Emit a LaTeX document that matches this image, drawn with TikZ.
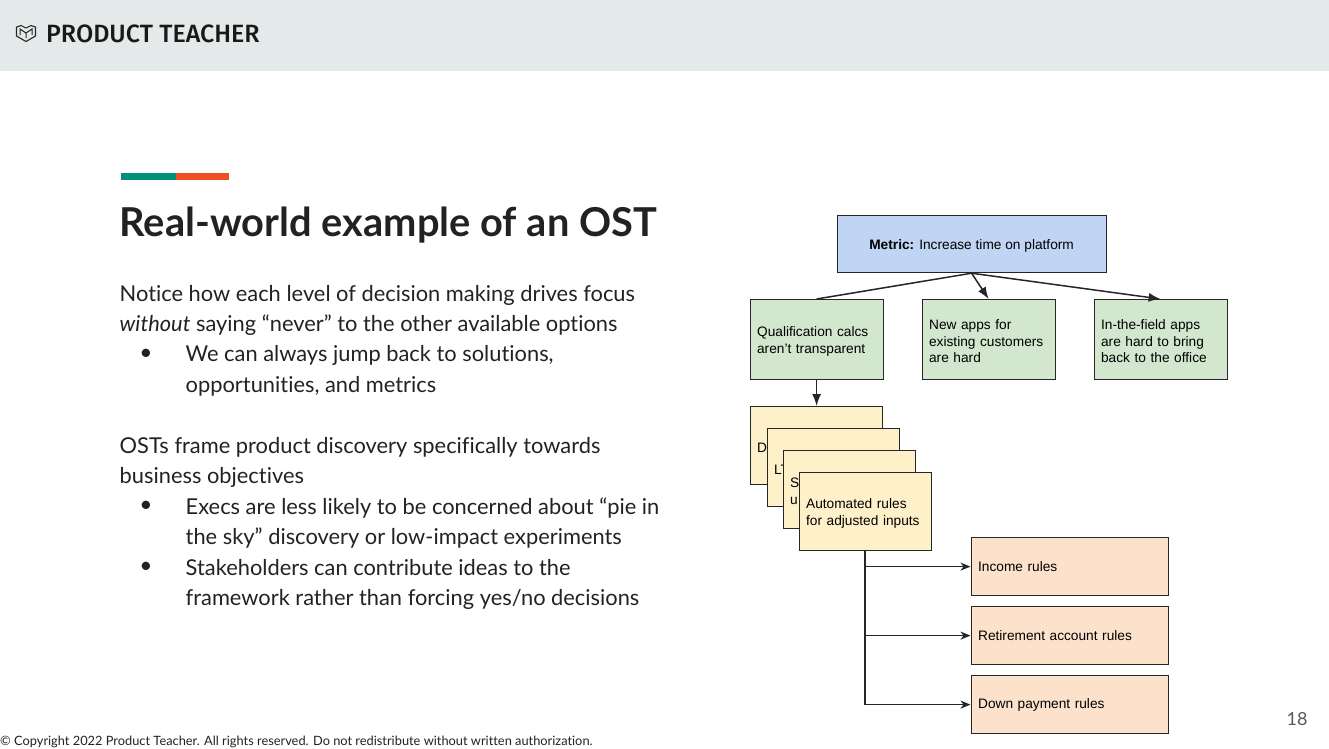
\documentclass[tikz,border=0pt]{standalone}
\usepackage{fontspec}
\setmainfont{Lato}[Ligatures=NoCommon]
\newfontfamily\arialfont{Liberation Sans}
\newfontfamily\logofont{Fira Sans Medium}
\usetikzlibrary{arrows.meta}
\definecolor{bandgray}{HTML}{E4EAEA}
\definecolor{barteal}{HTML}{00917C}
\definecolor{barorange}{HTML}{EF4F23}
\definecolor{inkgray}{HTML}{222222}
\definecolor{boxblue}{HTML}{C0D4F4}
\definecolor{boxgreen}{HTML}{D3E6CE}
\definecolor{boxyellow}{HTML}{FEF0C8}
\definecolor{boxpeach}{HTML}{FCE2CB}
\newcommand{\lowstrut}{\rule{0pt}{13.5pt}}
\tikzset{
	bodytext/.style={anchor=north west, inner sep=0pt, align=left, text=inkgray, font=\fontsize{21.85}{30.4}\selectfont},
	bullettext/.style={anchor=center, inner sep=0pt, text=inkgray, font=\fontsize{17}{17}\selectfont},
	treebox/.style={draw=black!85, line width=1.2pt, anchor=north west, inner sep=0pt, inner xsep=7pt, align=left, text=black, font=\arialfont\fontsize{13.7}{16.7}\selectfont},
	treeline/.style={draw=black!85, line width=1.5pt},
	bigtip/.style={-{Latex[length=12pt,width=9pt]}},
	smalltip/.style={-{Stealth[length=10pt,width=8pt,inset=3pt]}},
}
\begin{document}
\begin{tikzpicture}[x=1pt,y=-1pt]
	\useasboundingbox (0,0) rectangle (1329,748);
	\fill [bandgray] (0,0) rectangle (1329,71);

	% logo
	\draw [line width=1.1pt, black!85] (16.5,27) -- (21,25.5) -- (26,28) -- (31,25.5) -- (35.5,27) -- (35.5,36) -- (26,41.5) -- (16.5,36) -- cycle;
	\draw [line width=1pt, black!85] (20,35) -- (20,29) -- (26,33) -- (32,29) -- (32,35) (26,33) -- (26,38);
	\node (logotext) [anchor=west, inner sep=0pt, text=black!90, font=\logofont\fontsize{25}{25}\selectfont] at (46,34) {PRODUCT TEACHER};

	% heading
	\fill [barteal] (121,173) rectangle (176,180);
	\fill [barorange] (176,173) rectangle (229,180);
	\node (headline) [anchor=west, inner sep=0pt, text=inkgray, font=\bfseries\fontsize{39.8}{39.8}\selectfont] at (119.5,225) {Real-world example of an OST};

	% left text
	\node (noticetext) [bodytext] at (119.5,284.7) {Notice how each level of decision making drives focus\\\textit{without} saying “never” to the other available options};
	\node (bulleta) [bullettext] at (146,354) {●};
	\node (jumptext) [bodytext] at (185.5,345.5) {We can always jump back to solutions,\\opportunities, and metrics};
	\node (framestext) [bodytext] at (119.5,436.7) {OSTs frame product discovery specifically towards\\business objectives};
	\node (bulletb) [bullettext] at (146,506) {●};
	\node (execstext) [bodytext] at (185.5,497.5) {Execs are less likely to be concerned about “pie in\\the sky” discovery or low-impact experiments};
	\node (bulletc) [bullettext] at (146,567) {●};
	\node (holderstext) [bodytext] at (185.5,558.7) {Stakeholders can contribute ideas to the\\framework rather than forcing yes/no decisions};

	% tree
	\node (metric) [treebox, fill=boxblue, minimum width=269pt, minimum height=57pt, align=center] at (836.5,215) {\lowstrut\textbf{Metric:} Increase time on platform};
	\node (qualcalcs) [treebox, fill=boxgreen, text width=119pt, minimum height=80pt] at (749.5,299) {\lowstrut Qualification calcs\\aren’t transparent};
	\node (newapps) [treebox, fill=boxgreen, text width=119pt, minimum height=80pt] at (921.5,299) {\lowstrut New apps for\\existing customers\\are hard};
	\node (fieldapps) [treebox, fill=boxgreen, text width=119pt, minimum height=80pt] at (1093.5,299) {\lowstrut In-the-field apps\\are hard to bring\\back to the office};
	\draw [treeline] (metric.south) -- (qualcalcs.north);
	\draw [treeline, bigtip] (metric.south) -- (newapps.north);
	\draw [treeline, bigtip] (metric.south) -- (fieldapps.north);

	\node (cardd) [treebox, fill=boxyellow, text width=118pt, minimum height=78pt] at (749.5,406) {\lowstrut D};
	\node (cardlt) [treebox, fill=boxyellow, text width=118pt, minimum height=78pt] at (766.5,428) {\lowstrut LT};
	\node (cards) [treebox, fill=boxyellow, text width=118pt, minimum height=78pt] at (782.5,450) {\lowstrut S\\u};
	\node (autorules) [treebox, fill=boxyellow, text width=118pt, minimum height=78pt] at (798.5,472) {\lowstrut Automated rules\\for adjusted inputs};
	\draw [treeline, bigtip] (qualcalcs.south) -- (qualcalcs.south |- cardd.north);

	\node (incomerules) [treebox, fill=boxpeach, text width=183pt, minimum height=58pt] at (970.5,537) {Income rules};
	\node (retirerules) [treebox, fill=boxpeach, text width=183pt, minimum height=58pt] at (970.5,606) {Retirement account rules};
	\node (downrules) [treebox, fill=boxpeach, text width=183pt, minimum height=58pt] at (970.5,675) {Down payment rules};
	\draw [treeline, smalltip] (autorules.south) |- (incomerules.west);
	\draw [treeline, smalltip] (autorules.south) |- (retirerules.west);
	\draw [treeline, smalltip] (autorules.south) |- (downrules.west);

	% footer
	\node (pagenum) [anchor=center, inner sep=0pt, text=black!65, font=\fontsize{18}{18}\selectfont] at (1297,719) {18};
	\node (copyright) [anchor=west, inner sep=0pt, text=inkgray, font=\fontsize{12.82}{12.82}\selectfont] at (0,741.5) {© Copyright 2022 Product Teacher. All rights reserved. Do not redistribute without written authorization.};
\end{tikzpicture}
\end{document}
